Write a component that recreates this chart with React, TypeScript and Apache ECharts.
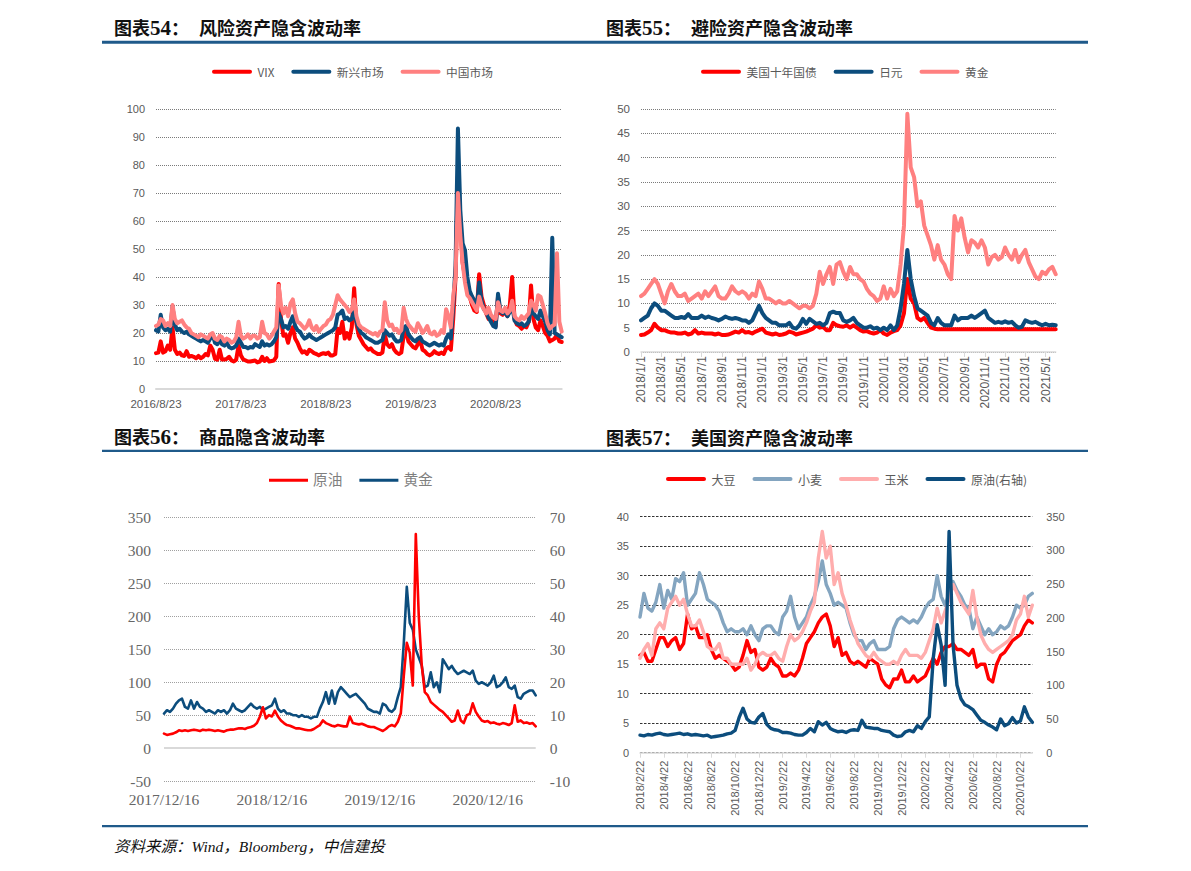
import React, { useEffect, useRef } from 'react';
import * as echarts from 'echarts';

// ---------------- 图表54：风险资产隐含波动率 ----------------
const ticks54 = ['2016/8/23', '2017/8/23', '2018/8/23', '2019/8/23', '2020/8/23'];
const vix54 = [
  12.8, 13.0, 17.0, 13.0, 13.5, 15.5, 14.0, 22.0, 14.0, 12.5,
  13.0, 12.0, 11.8, 13.5, 11.5, 11.8, 11.5, 11.0, 11.8, 11.0,
  11.5, 12.5, 12.0, 15.5, 14.0, 10.8, 10.5, 14.0, 10.5, 10.5,
  10.8, 11.5, 10.2, 9.8, 10.5, 15.5, 12.0, 10.5, 10.2, 9.8,
  9.8, 10.0, 10.2, 9.5, 9.8, 11.5, 10.0, 11.0, 9.8, 10.0,
  10.2, 11.5, 37.5, 25.0, 19.0, 19.5, 16.5, 20.0, 22.0, 18.0,
  16.5, 14.5, 13.0, 13.5, 12.5, 14.0, 13.5, 12.8, 12.5, 12.0,
  12.5, 12.8, 12.5, 13.0, 12.0, 12.0, 12.5, 21.5, 20.0, 24.0,
  18.0, 20.0, 18.0, 22.0, 36.0, 23.0, 19.0, 17.5, 16.0, 15.0,
  14.0, 14.5, 13.5, 13.0, 12.5, 12.5, 13.0, 19.5, 16.0, 15.0,
  16.0, 14.0, 13.0, 12.5, 13.0, 19.0, 20.5, 17.0, 16.0, 15.0,
  14.5, 16.0, 17.5, 14.0, 13.5, 12.5, 12.0, 12.5, 13.5, 12.8,
  12.5, 13.0, 12.5, 14.5, 15.0, 14.0, 25.0, 40.0, 76.0, 60.0,
  45.0, 40.0, 37.0, 33.0, 30.0, 28.0, 27.5, 41.0, 33.0, 30.0,
  27.0, 25.0, 25.5, 23.5, 22.5, 33.0, 27.0, 26.5, 28.0, 26.0,
  30.0, 40.0, 25.0, 23.0, 22.5, 21.5, 22.5, 22.0, 24.0, 37.0,
  25.0, 22.0, 21.0, 24.5, 22.5, 20.0, 19.0, 17.0, 17.5, 18.0,
  19.5, 17.0, 16.8,
];
const em54 = [
  21.0, 20.5, 26.5, 22.0, 21.0, 21.5, 20.5, 29.5, 23.0, 21.0,
  21.5, 20.5, 20.0, 20.5, 19.5, 19.0, 18.5, 18.0, 17.5, 17.0,
  17.5, 17.0, 16.5, 18.0, 19.5, 16.5, 16.0, 17.5, 16.0, 15.5,
  16.5, 15.0, 14.5, 14.8, 15.5, 18.0, 16.5, 15.0, 15.0, 14.5,
  15.0, 14.8, 16.0, 15.5, 15.0, 17.0, 15.5, 16.0, 15.5, 16.0,
  17.0, 18.5, 27.0, 25.0, 22.0, 22.5, 21.5, 24.0, 26.0, 22.5,
  21.0, 20.5, 19.0, 18.0, 18.5, 19.5, 18.5, 18.0, 17.5, 18.0,
  18.5, 19.0, 19.5, 20.0, 20.5, 21.0, 22.0, 26.5, 27.0, 28.0,
  25.0, 25.5, 24.5, 25.0, 28.0, 24.0, 21.5, 20.0, 19.5, 18.5,
  18.0, 17.5, 17.0, 16.5, 16.5, 17.0, 17.5, 21.0, 20.0, 19.0,
  19.5, 18.0, 17.0, 17.0, 17.5, 22.0, 22.5, 19.5, 18.5, 17.5,
  17.0, 18.0, 18.5, 17.0, 16.5, 16.0, 15.5, 16.0, 16.5, 16.0,
  15.5, 16.0, 15.5, 18.0, 19.5, 18.0, 30.0, 44.0, 93.0, 64.0,
  52.0, 49.5, 40.0, 35.0, 33.0, 31.5, 29.0, 38.0, 31.5, 28.5,
  27.5, 25.5, 24.0, 22.5, 22.0, 34.0, 28.0, 27.0, 27.5, 26.0,
  27.5, 30.0, 24.5, 23.5, 23.0, 23.5, 22.5, 23.0, 24.0, 29.0,
  27.0, 26.0, 25.0, 28.0, 26.0, 24.0, 21.0, 19.5, 54.0, 20.0,
  19.5, 19.0, 18.5,
];
const cn54 = [
  22.5, 23.0, 25.0, 24.5, 22.5, 23.5, 22.5, 30.0, 25.0, 23.5,
  24.0, 24.5, 23.0, 22.0, 21.5, 20.0, 19.5, 19.0, 18.5, 19.5,
  19.0, 18.5, 18.0, 19.5, 20.0, 18.0, 17.5, 19.0, 18.5, 17.0,
  18.0, 17.5, 16.5, 17.0, 18.5, 24.0, 19.0, 18.0, 18.5, 19.5,
  18.0, 19.0, 19.0, 18.0, 18.5, 24.0, 20.0, 19.5, 18.0, 19.0,
  20.5, 22.0, 37.0, 30.0, 27.0, 29.0, 26.0, 30.5, 32.0, 27.0,
  24.0, 23.5, 22.5, 21.5, 22.5, 24.5, 22.0, 21.0, 22.5, 20.5,
  21.5, 22.5, 23.0, 24.5, 25.0, 26.5, 30.0, 33.5, 32.0, 31.0,
  30.0, 29.0, 27.5, 28.5, 32.0, 26.0, 23.0, 22.0, 21.5, 21.0,
  20.5, 20.0, 19.5, 20.0, 19.0, 20.5, 21.0, 31.0, 24.5, 22.5,
  23.0, 21.0, 21.5, 20.0, 21.0, 29.0, 25.0, 23.0, 22.0, 21.0,
  20.5, 23.5, 22.0, 20.0, 21.0, 22.5, 20.0, 19.5, 20.5, 19.0,
  19.5, 21.0, 20.0, 28.5, 26.0, 22.0, 33.0, 40.0, 70.0, 55.0,
  45.0, 38.0, 33.5, 32.5, 31.0, 29.5, 28.0, 33.0, 30.0, 28.5,
  27.0, 29.0, 26.5, 25.5, 25.0, 31.0, 28.0, 27.5, 29.0, 27.0,
  28.0, 31.5, 26.0, 25.0, 24.5, 26.0, 25.0, 26.0, 27.0, 31.5,
  30.0, 28.0, 33.5, 33.0, 30.0, 27.0, 23.5, 21.5, 22.5, 23.0,
  48.5, 24.0, 20.5,
];

// ---------------- 图表55：避险资产隐含波动率 ----------------
const ticks55 = [
  '2018/1/1', '2018/3/1', '2018/5/1', '2018/7/1', '2018/9/1', '2018/11/1',
  '2019/1/1', '2019/3/1', '2019/5/1', '2019/7/1', '2019/9/1', '2019/11/1',
  '2020/1/1', '2020/3/1', '2020/5/1', '2020/7/1', '2020/9/1', '2020/11/1',
  '2021/1/1', '2021/3/1', '2021/5/1',
];
const ust55 = [
  3.5, 3.6, 4.0, 4.5, 5.8, 5.0, 4.5, 4.5, 4.2, 4.0,
  4.0, 3.8, 3.8, 4.0, 3.6, 3.8, 4.5, 3.8, 4.0, 3.8,
  3.8, 3.8, 3.6, 3.8, 3.5, 3.5, 3.6, 3.9, 4.2, 4.0,
  4.5, 4.0, 4.1, 3.8, 4.2, 4.5, 4.8, 4.0, 3.8, 3.6,
  3.8, 3.5, 3.6, 3.8, 4.2, 4.0, 3.6, 3.8, 4.0, 4.2,
  4.5, 4.8, 5.5, 5.0, 5.2, 4.5, 4.5, 6.0, 5.5, 5.3,
  5.2, 5.5, 5.0, 5.5, 5.0, 4.5, 4.2, 4.3, 4.0, 3.8,
  4.0, 4.5, 3.8, 3.5, 4.0, 4.3, 4.5, 5.5, 8.0, 15.0,
  11.0, 10.0, 7.0, 6.5, 7.0, 6.0, 5.0, 4.8, 4.7, 4.7,
  4.7, 4.7, 4.7, 4.7, 4.7, 4.7, 4.7, 4.7, 4.7, 4.7,
  4.7, 4.7, 4.7, 4.7, 4.7, 4.7, 4.7, 4.7, 4.7, 4.7,
  4.7, 4.7, 4.7, 4.7, 4.7, 4.7, 4.7, 4.7, 4.7, 4.7,
  4.7, 4.7, 4.7, 4.7,
];
const jpy55 = [
  6.5, 7.0, 7.5, 9.0, 10.0, 9.5, 8.5, 8.5, 8.0, 7.5,
  7.0, 7.0, 7.2, 7.0, 7.8, 7.0, 7.0, 7.0, 7.5, 7.0,
  7.3, 7.0, 6.8, 6.5, 6.8, 7.3, 7.0, 6.8, 7.0, 6.8,
  6.5, 6.5, 6.0, 6.5, 8.0, 9.5, 8.0, 7.0, 6.5, 6.0,
  6.0, 5.5, 5.5, 5.5, 6.0, 5.0, 4.8, 5.5, 6.8, 5.8,
  6.8, 6.3, 5.8, 6.0, 5.5, 6.0, 8.0, 8.3, 8.0, 8.0,
  6.5, 6.2, 6.5, 7.0, 6.0, 5.5, 5.0, 5.0, 5.3, 4.8,
  5.0, 4.5, 5.0, 4.5, 5.5, 4.5, 5.5, 9.0, 14.0, 21.0,
  15.0, 11.5, 9.0, 8.5, 8.0, 7.5, 6.0, 5.5, 7.0, 6.0,
  5.5, 5.5, 5.5, 7.5, 6.5, 7.0, 7.0, 7.0, 7.5, 7.0,
  7.5, 8.0, 8.5, 7.0, 6.5, 6.0, 6.2, 6.0, 6.3, 6.0,
  6.2, 5.5, 5.0, 5.2, 6.5, 6.2, 6.0, 6.2, 5.8, 5.5,
  5.8, 5.5, 5.6, 5.5,
];
const gold55 = [
  11.5, 12.0, 13.0, 14.0, 15.0, 14.0, 12.0, 10.0, 12.5, 14.0,
  12.5, 11.5, 11.5, 12.0, 10.5, 11.0, 11.5, 12.0, 11.0, 12.5,
  11.5, 12.5, 13.5, 11.5, 11.0, 11.0, 12.0, 13.5, 12.5, 12.0,
  12.5, 12.0, 11.0, 12.0, 11.5, 14.5, 13.0, 11.0, 11.0, 10.5,
  10.0, 10.5, 10.0, 10.0, 10.5, 10.0, 9.5, 9.0, 9.5, 9.5,
  9.0, 9.5, 12.0, 16.5, 14.0, 16.0, 17.5, 14.0, 18.0, 18.5,
  16.5, 15.0, 17.5, 16.0, 16.0, 15.0, 14.5, 13.0, 12.0, 11.5,
  10.5, 11.0, 13.5, 11.0, 13.0, 11.5, 12.5, 18.0, 26.0, 49.0,
  38.0, 36.0, 30.0, 31.0, 26.0, 24.0, 22.0, 19.0, 22.0, 19.0,
  18.0, 16.0, 15.0, 28.0, 25.0, 27.5, 23.5, 20.5, 23.0, 22.5,
  21.5, 23.0, 21.5, 18.0, 19.5, 20.0, 19.0, 19.5, 21.5, 20.0,
  19.0, 21.0, 18.5, 20.0, 21.0, 18.5, 17.0, 15.5, 15.0, 16.5,
  16.0, 17.0, 17.5, 16.0,
];

// ---------------- 图表56：商品隐含波动率 ----------------
const ticks56 = ['2017/12/16', '2018/12/16', '2019/12/16', '2020/12/16'];
const oil56 = [
  22, 20, 21, 22, 24, 27, 26, 27, 26, 27,
  28, 27, 26, 28, 27, 28, 27, 26, 27, 26,
  25, 27, 28, 28, 29, 30, 30, 29, 31, 32,
  34, 38, 48, 62, 45, 50, 48, 57, 48, 42,
  38, 35, 34, 32, 30, 30, 29, 28, 27, 27,
  29, 32, 35, 42, 38, 36, 34, 33, 35, 34,
  33, 33, 48, 38, 37, 36, 37, 35, 33, 32,
  32, 30, 28, 26, 29, 33, 35, 33, 40, 53,
  110, 160, 145, 95, 325, 200, 125, 85, 80, 70,
  66, 62, 58, 55, 50, 45, 40, 42, 57, 42,
  38, 50, 52, 68, 55, 48, 42, 40, 41, 38,
  39, 37, 36, 38, 37, 35, 38, 65, 40, 42,
  38, 39, 37, 38, 33,
];
const gold56 = [
  10.5, 11.5, 11.0, 12.0, 13.5, 14.5, 15.0, 12.5, 12.0, 14.5,
  12.0, 14.0, 12.5, 12.0, 11.0, 11.5, 11.0, 10.5, 11.5, 11.0,
  11.5, 10.5, 11.5, 13.5, 12.0, 11.5, 11.0, 11.5, 12.5, 13.5,
  12.5, 12.0, 12.5, 11.5, 12.0, 12.5, 13.0, 15.0, 12.0, 11.0,
  11.5, 10.5, 10.5, 10.0, 10.0, 9.5, 10.0, 9.5, 9.5, 9.0,
  9.5, 9.5, 12.0, 14.0, 17.0, 13.5, 17.5, 13.5, 17.0, 18.5,
  17.5, 16.5, 15.5, 16.0, 16.5, 15.5, 14.5, 13.5, 12.0, 11.5,
  11.0, 11.0, 10.5, 13.5, 13.0, 11.5, 11.0, 12.0, 15.5, 18.5,
  32.0, 49.0, 38.0, 36.0, 30.0, 27.5, 25.0, 18.5, 19.0, 23.0,
  18.5, 20.0, 17.0, 27.0, 25.5, 24.0, 25.0, 23.5, 22.5, 23.0,
  23.5, 23.0, 22.5, 23.5, 20.5, 19.5, 20.0, 19.5, 19.0, 20.0,
  22.0, 18.5, 19.0, 20.0, 21.5, 18.5, 18.0, 19.0, 15.5, 15.0,
  16.5, 17.0, 17.5, 17.5, 16.0,
];

// ---------------- 图表57：美国资产隐含波动率 ----------------
const ticks57 = [
  '2018/2/22', '2018/4/22', '2018/6/22', '2018/8/22', '2018/10/22', '2018/12/22',
  '2019/2/22', '2019/4/22', '2019/6/22', '2019/8/22', '2019/10/22', '2019/12/22',
  '2020/2/22', '2020/4/22', '2020/6/22', '2020/8/22', '2020/10/22',
];
const soy57 = [
  16.5, 17.0, 15.5, 15.5, 17.5, 19.5, 19.5, 18.0, 19.0, 19.5,
  17.5, 18.5, 23.5, 21.0, 21.5, 19.5, 19.5, 20.0, 17.5, 16.0,
  16.5, 16.0, 15.5, 15.0, 14.0, 14.5, 16.5, 19.0, 17.0, 17.5,
  14.5, 14.0, 14.5, 16.0, 15.0, 14.5, 13.0, 13.0, 13.5, 13.0,
  14.0, 16.0, 18.5, 19.5, 20.5, 22.0, 23.0, 23.5, 21.5, 18.0,
  19.5, 16.5, 17.0, 15.5, 15.0, 15.5, 15.0, 14.5, 16.0, 15.5,
  15.0, 12.5, 11.5, 11.0, 12.5, 12.5, 14.0, 12.0, 12.0, 13.0,
  12.0, 12.5, 13.0, 14.5, 16.0, 15.0, 17.0, 18.0, 18.0, 18.5,
  17.5, 17.5, 17.0, 16.5, 17.5, 14.5, 15.0, 15.0, 12.5, 12.0,
  15.0, 16.5, 17.0, 18.0, 19.0, 19.5, 20.0, 21.5, 22.5, 22.0,
];
const wheat57 = [
  23.0, 27.0, 24.5, 24.0, 25.5, 28.5, 24.5, 27.5, 26.0, 29.5,
  29.0, 30.5, 25.0, 26.0, 27.0, 30.5, 28.5, 26.0, 25.5, 25.0,
  24.0, 22.0, 20.5, 21.0, 20.5, 20.5, 21.0, 20.0, 21.5, 20.0,
  19.0, 21.0, 21.5, 21.5, 20.5, 20.0, 23.0, 24.0, 26.5, 23.0,
  21.0, 22.0, 23.0, 25.0, 26.5, 29.0, 32.5, 28.5, 27.0, 25.0,
  25.5, 25.0, 24.5, 22.0, 20.0, 19.0, 19.0, 17.5, 18.5, 19.0,
  17.5, 17.5, 17.5, 18.0, 21.0, 22.5, 23.0, 22.5, 22.0, 22.5,
  22.0, 23.0, 24.5, 25.5, 26.0, 30.0, 26.5, 25.0, 27.0, 29.0,
  27.5, 26.5, 25.0, 24.5, 21.0, 23.0, 21.5, 20.0, 21.0, 20.0,
  20.5, 21.5, 21.0, 21.5, 23.0, 25.0, 24.5, 25.0, 26.5, 27.0,
];
const corn57 = [
  16.0, 17.5, 18.5, 16.5, 21.0, 22.0, 21.0, 24.5, 25.5, 26.5,
  25.0, 26.0, 23.5, 21.5, 21.5, 22.5, 20.5, 18.0, 17.5, 17.5,
  18.5, 16.0, 16.0, 15.0, 15.0, 15.0, 15.0, 16.0, 14.0, 15.0,
  16.5, 17.0, 16.5, 16.5, 17.0, 16.0, 15.5, 18.0, 20.0, 19.0,
  19.5, 20.5, 22.0, 24.0, 25.5, 33.0, 37.5, 33.0, 35.0, 28.5,
  30.5, 27.0, 25.0, 22.5, 20.5, 18.5, 17.5, 16.5, 16.0, 17.0,
  16.0, 15.5, 15.0, 15.0, 15.5, 15.0, 16.5, 17.5, 16.5, 16.5,
  16.5, 16.0, 17.0, 19.0, 21.0, 24.5, 22.0, 24.0, 26.0, 28.5,
  27.0, 25.5, 24.5, 23.5, 27.5, 23.0, 20.0, 18.5, 17.5, 17.0,
  17.5, 18.0, 18.5, 19.0, 20.0, 22.5, 23.5, 26.5, 23.0, 25.0,
];
const crude57 = [
  26, 25, 27, 26, 28, 29, 27, 26, 27, 28,
  29, 27, 28, 26, 27, 26, 25, 26, 23, 24,
  25, 26, 28, 29, 33, 52, 66, 50, 45, 44,
  53, 58, 42, 36, 34, 33, 30, 30, 29, 27,
  26, 26, 30, 36, 31, 46, 41, 45, 36, 33,
  31, 32, 30, 33, 34, 33, 48, 38, 37, 36,
  36, 33, 32, 31, 26, 24, 25, 31, 33, 31,
  40, 36, 46, 53, 140, 190, 160, 100, 328, 160,
  100, 80, 71, 68, 64, 56, 48, 45, 41, 38,
  34, 50, 40, 43, 52, 44, 47, 68, 53, 45,
];

// ---------------- styling ----------------
const RED = '#ff0000';
const NAVY = '#0c4d7d';
const PINK = '#ff8080';
const STEEL = '#84a5c0';
const LPINK = '#ffadad';
const RULE = '#1f5a8a';
const LABEL = '#595959';
const AXIS = '#d9d9d9';
const CAPSULE = 'path://M2,0L38,0A2,2,0,0,1,38,4L2,4A2,2,0,0,1,2,0Z';
const SANS = '"Liberation Sans", "Noto Sans CJK SC", sans-serif';
const CJK = '"Noto Sans CJK SC", sans-serif';
const SERIF = '"Liberation Serif", "Noto Sans CJK SC", serif';

function dateCats(start: string, n: number, step: number): string[] {
  const [y, m, d] = start.split('/').map(Number);
  const t0 = Date.UTC(y, m - 1, d);
  const out: string[] = [];
  for (let i = 0; i < n; i++) {
    const dt = new Date(t0 + Math.round(i * step) * 86400000);
    out.push(`${dt.getUTCFullYear()}/${dt.getUTCMonth() + 1}/${dt.getUTCDate()}`);
  }
  return out;
}

function line(name: string, data: number[], color: string, width: number, yAxisIndex = 0, extra: any = {}) {
  return {
    type: 'line', name, data, yAxisIndex, symbol: 'none', showSymbol: false,
    lineStyle: { color, width, join: 'round', cap: 'round' }, itemStyle: { color },
    emphasis: { disabled: true }, ...extra,
  };
}

function tickFormatter(ticks: string[], every: number) {
  return (_v: string, i: number) => (i % every === 0 && ticks[i / every] ? ticks[i / every] : '');
}

function titleParts(x: number, y: number, num: string, title: string) {
  const base = { fill: '#111', verticalAlign: 'middle' };
  return [
    { type: 'text', x, y, style: { ...base, text: '图表', fontFamily: CJK, fontWeight: 'bold', fontSize: 18 } },
    { type: 'text', x: x + 36, y: y + 1, style: { ...base, text: num, fontFamily: '"Liberation Serif", serif', fontWeight: 'bold', fontSize: 21 } },
    { type: 'text', x: x + 57, y, style: { ...base, text: '：', fontFamily: CJK, fontWeight: 'bold', fontSize: 18 } },
    { type: 'text', x: x + 85, y, style: { ...base, text: title, fontFamily: CJK, fontWeight: 'bold', fontSize: 18 } },
  ];
}

const pageGraphics = [
  { type: 'line', shape: { x1: 102, y1: 42.3, x2: 1088, y2: 42.3 }, style: { stroke: RULE, lineWidth: 3 } },
  { type: 'line', shape: { x1: 102, y1: 450.8, x2: 1088, y2: 450.8 }, style: { stroke: RULE, lineWidth: 2.3 } },
  { type: 'line', shape: { x1: 102, y1: 826.2, x2: 1088, y2: 826.2 }, style: { stroke: RULE, lineWidth: 2.3 } },
  ...titleParts(114, 27, '54', '风险资产隐含波动率'),
  ...titleParts(606, 27, '55', '避险资产隐含波动率'),
  ...titleParts(114, 436, '56', '商品隐含波动率'),
  ...titleParts(606, 436.5, '57', '美国资产隐含波动率'),
  {
    type: 'text', x: 114, y: 846,
    style: { text: '资料来源：Wind，Bloomberg，中信建投', fontFamily: SERIF, fontStyle: 'italic', fontSize: 15.5, fill: '#111', verticalAlign: 'middle' },
  },
];

function legend(left: number, top: number, names: string[], extra: any = {}) {
  return {
    left, top, padding: 0, itemWidth: 41, itemHeight: 4, itemGap: 17, icon: CAPSULE,
    textStyle: { fontSize: 11.7, color: LABEL, fontFamily: CJK }, data: names, ...extra,
  };
}

const hiddenAxis = { axisLine: { show: false }, axisTick: { show: false } };

function option54() {
  const cats = dateCats('2016/8/23', vix54.length, 365.25 / 36);
  return {
    animation: false,
    graphic: pageGraphics,
    legend: legend(212, 66, ['VIX', '新兴市场', '中国市场']),
    grid: { left: 156, top: 109, width: 405.7, height: 280 },
    xAxis: {
      type: 'category', boundaryGap: false, data: cats, z: 5,
      axisLine: { lineStyle: { color: AXIS, width: 2 } }, axisTick: { show: false },
      axisLabel: { interval: 35, margin: 9, fontSize: 11.5, color: LABEL, fontFamily: SANS, formatter: tickFormatter(ticks54, 36) },
    },
    yAxis: {
      type: 'value', min: 0, max: 100, interval: 10, ...hiddenAxis,
      axisLabel: { fontSize: 11, color: LABEL, margin: 11, fontFamily: SANS },
      splitLine: { lineStyle: { color: '#7a7a7a', type: [1, 1], width: 1 } },
    },
    series: [line('VIX', vix54, RED, 4), line('新兴市场', em54, NAVY, 4), line('中国市场', cn54, PINK, 4)],
  };
}

function option55() {
  const cats = dateCats('2018/1/1', gold55.length, 365.25 / 36);
  return {
    animation: false,
    legend: legend(701, 66, ['美国十年国债', '日元', '黄金']),
    grid: { left: 641, top: 109, width: 414.7, height: 243 },
    xAxis: {
      type: 'category', boundaryGap: false, data: cats, z: 5,
      axisLine: { lineStyle: { color: AXIS, width: 1.5 } },
      axisTick: { show: true, interval: 5, length: 5, lineStyle: { color: AXIS } },
      axisLabel: { interval: 5, rotate: 90, margin: 4, fontSize: 12, color: LABEL, fontFamily: SANS, formatter: tickFormatter(ticks55, 6) },
    },
    yAxis: {
      type: 'value', min: 0, max: 50, interval: 5, ...hiddenAxis,
      axisLabel: { fontSize: 11.5, color: LABEL, margin: 11, fontFamily: SANS },
      splitLine: { lineStyle: { color: '#7a7a7a', type: [1, 1], width: 1 } },
    },
    series: [line('美国十年国债', ust55, RED, 4), line('日元', jpy55, NAVY, 4), line('黄金', gold55, PINK, 4)],
  };
}

function option56() {
  const cats = dateCats('2017/12/16', oil56.length, 365.25 / 36);
  const axisText = { fontSize: 15.5, color: '#666', fontFamily: SERIF };
  return {
    animation: false,
    legend: legend(269, 473, ['原油', '黄金'], {
      itemWidth: 39, itemHeight: 3, icon: 'rect', itemGap: 17,
      textStyle: { fontSize: 14.7, color: '#7f7f7f', fontFamily: SERIF },
    }),
    grid: { left: 164, top: 517.7, width: 371.7, height: 263.3 },
    xAxis: {
      type: 'category', boundaryGap: false, data: cats,
      axisLine: { show: false, onZero: false }, axisTick: { show: false },
      axisLabel: { interval: 35, margin: 11, ...axisText, formatter: tickFormatter(ticks56, 36) },
    },
    yAxis: [
      {
        type: 'value', min: -50, max: 350, interval: 50, ...hiddenAxis,
        axisLabel: { margin: 13, ...axisText },
        splitLine: { lineStyle: { color: '#a0a0a0', type: [1, 1], width: 1 } },
      },
      {
        type: 'value', min: -10, max: 70, interval: 10, position: 'right', ...hiddenAxis,
        axisLabel: { margin: 14, ...axisText }, splitLine: { show: false },
      },
    ],
    series: [
      line('黄金', gold56, NAVY, 2.6, 1, { z: 2 }),
      line('原油', oil56, RED, 2.6, 0, {
        z: 3,
        markLine: {
          silent: true, symbol: ['none', 'none'], label: { show: false }, animation: false,
          lineStyle: { color: AXIS, type: 'solid', width: 2 }, data: [{ yAxis: 0 }], z: 1,
        },
      }),
    ],
  };
}

function option57() {
  const cats = dateCats('2018/2/22', soy57.length, 365.25 / 36);
  return {
    animation: false,
    legend: legend(666, 473, ['大豆', '小麦', '玉米', '原油(右轴)'], {
      textStyle: { fontSize: 12, color: LABEL, fontFamily: CJK },
    }),
    grid: { left: 640, top: 516.7, width: 392.3, height: 236 },
    xAxis: {
      type: 'category', boundaryGap: false, data: cats, z: 5,
      axisLine: { lineStyle: { color: AXIS, width: 1.5 } },
      axisTick: { show: true, interval: 5, length: 5, lineStyle: { color: AXIS } },
      axisLabel: { interval: 5, rotate: 90, margin: 8, fontSize: 11, color: LABEL, fontFamily: SANS, formatter: tickFormatter(ticks57, 6) },
    },
    yAxis: [
      {
        type: 'value', min: 0, max: 40, interval: 5, ...hiddenAxis,
        axisLabel: { fontSize: 11, color: LABEL, margin: 11, fontFamily: SANS },
        splitLine: { lineStyle: { color: '#333', type: [2.5, 1.5], width: 1 } },
      },
      {
        type: 'value', min: 0, max: 350, interval: 50, position: 'right', ...hiddenAxis,
        axisLabel: { fontSize: 11, color: LABEL, margin: 14, fontFamily: SANS }, splitLine: { show: false },
      },
    ],
    series: [
      line('大豆', soy57, RED, 3.4),
      line('小麦', wheat57, STEEL, 3.4),
      line('玉米', corn57, LPINK, 3.4),
      line('原油(右轴)', crude57, NAVY, 3.4, 1),
    ],
  };
}

export default function App() {
  const r1 = useRef<HTMLDivElement>(null);
  const r2 = useRef<HTMLDivElement>(null);
  const r3 = useRef<HTMLDivElement>(null);
  const r4 = useRef<HTMLDivElement>(null);

  useEffect(() => {
    const opts = [option54(), option55(), option56(), option57()];
    const refs = [r1, r2, r3, r4];
    const charts = refs.map((r, i) => {
      const c = echarts.init(r.current as HTMLDivElement, undefined, { renderer: 'svg' });
      c.setOption(opts[i] as any);
      return c;
    });
    return () => charts.forEach((c) => c.dispose());
  }, []);

  const layer: React.CSSProperties = { position: 'absolute', left: 0, top: 0, width: 1191, height: 871 };
  return (
    <div style={{ position: 'absolute', left: 0, top: 0, width: 1191, height: 871, background: '#fff' }}>
      <div ref={r1} style={layer} />
      <div ref={r2} style={layer} />
      <div ref={r3} style={layer} />
      <div ref={r4} style={layer} />
    </div>
  );
}
